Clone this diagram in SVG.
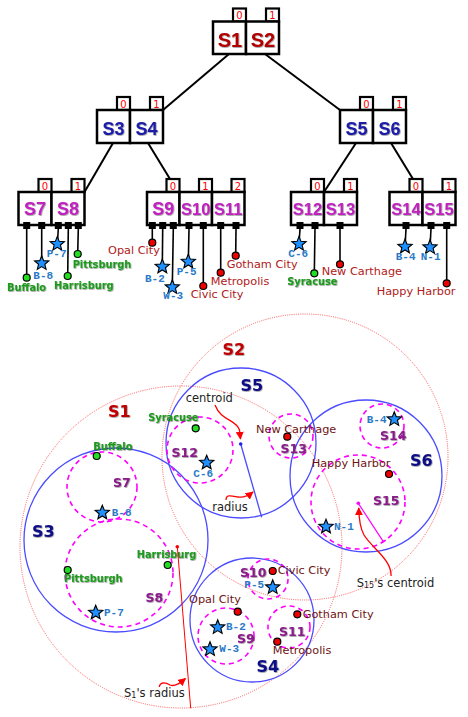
<svg xmlns="http://www.w3.org/2000/svg" width="468" height="717" viewBox="0 0 468 717">
<defs>
<filter id="sh" x="-20%" y="-30%" width="150%" height="170%"><feDropShadow dx="0.7" dy="0.7" stdDeviation="0.5" flood-color="#000" flood-opacity="0.45"/></filter>
<path id="star" d="M0,-7.5 L1.94,-2.67 L7.13,-2.32 L3.14,1.02 L4.41,6.07 L0,3.3 L-4.41,6.07 L-3.14,1.02 L-7.13,-2.32 L-1.94,-2.67 Z"/>
<marker id="arr" viewBox="0 0 10 10" refX="9" refY="5" markerWidth="8" markerHeight="8" markerUnits="userSpaceOnUse" orient="auto"><path d="M0,0 L10,5 L0,10 z" fill="#f00"/></marker>
<style>
.box{fill:#fff;stroke:#000;stroke-width:2.5}
.tab{fill:#fff;stroke:#000;stroke-width:2.2}
.tabt{font-family:"DejaVu Sans",sans-serif;font-size:10px;fill:#f00;text-anchor:middle}
.n1{font-family:"Liberation Sans",sans-serif;font-weight:bold;font-size:20px;fill:#b00000;text-anchor:middle;filter:url(#sh)}
.n2{font-family:"Liberation Sans",sans-serif;font-weight:bold;font-size:18px;fill:#1a1aa8;text-anchor:middle;filter:url(#sh)}
.n3{font-family:"Liberation Sans",sans-serif;font-weight:bold;font-size:18px;fill:#c020c0;text-anchor:middle;filter:url(#sh)}
.n3s{font-size:16.5px}
.edge{stroke:#000;stroke-width:2;fill:none}
.pl{stroke:#000;stroke-width:1.6}
.pin{fill:#000}
.rd{fill:#e00;stroke:#000;stroke-width:1.2}
.gd{fill:#2d2;stroke:#000;stroke-width:1.2}
.st{fill:#1e90ff;stroke:#000;stroke-width:1.1}
.gl{font-family:"DejaVu Sans",sans-serif;font-weight:bold;font-size:9.8px;fill:#1d9a1d;filter:url(#sh)}
.rl{font-family:"DejaVu Sans",sans-serif;font-size:11.3px;fill:#b02020}
.rl2{font-family:"DejaVu Sans",sans-serif;font-size:11.3px;fill:#6e1414}
.sl{font-family:"Liberation Mono",monospace;font-weight:bold;font-size:11px;fill:#2a7ac8}
.cr{fill:none;stroke:#ff5a5a;stroke-width:1;stroke-dasharray:1 1.2}
.cb{fill:none;stroke:#4b4bff;stroke-width:1.3}
.cm{fill:none;stroke:#f0f;stroke-width:1.6;stroke-dasharray:5 4}
.L1{font-family:"DejaVu Sans",sans-serif;font-weight:bold;font-size:16px;fill:#c00000;filter:url(#sh)}
.L2{font-family:"DejaVu Sans",sans-serif;font-weight:bold;font-size:16px;fill:#0b0b85;filter:url(#sh)}
.L3{font-family:"DejaVu Sans",sans-serif;font-weight:bold;font-size:12.5px;fill:#8a1a8a;filter:url(#sh)}
.ann{font-family:"DejaVu Sans",sans-serif;font-size:11.5px;fill:#222}
.aw{fill:none;stroke:#f00;stroke-width:1.3}
</style>
</defs>
<rect width="468" height="717" fill="#fff"/>

<!-- connectors -->
<g id="connectors">
<line class="edge" x1="229" y1="54" x2="163" y2="110"/>
<line class="edge" x1="265" y1="54" x2="340" y2="110"/>
<line class="edge" x1="113" y1="143" x2="84.5" y2="192"/>
<line class="edge" x1="148" y1="143" x2="170" y2="179"/>
<line class="edge" x1="356" y1="143" x2="324" y2="192"/>
<line class="edge" x1="391" y1="143" x2="413" y2="179"/>
<!-- pins -->
<line class="pl" x1="26.7" y1="229" x2="26.7" y2="277.7"/>
<line class="pl" x1="41.7" y1="229" x2="41.7" y2="263"/>
<line class="pl" x1="58.3" y1="229" x2="57.3" y2="244"/>
<line class="pl" x1="68.3" y1="229" x2="67.7" y2="276"/>
<line class="pl" x1="78.3" y1="229" x2="77.7" y2="254"/>
<line class="pl" x1="152.3" y1="229" x2="152.3" y2="242.7"/>
<line class="pl" x1="162.7" y1="229" x2="162.3" y2="266.7"/>
<line class="pl" x1="173.3" y1="229" x2="172.3" y2="287.3"/>
<line class="pl" x1="189" y1="229" x2="188.3" y2="261.7"/>
<line class="pl" x1="203.3" y1="229" x2="203.3" y2="286"/>
<line class="pl" x1="220.7" y1="229" x2="220.7" y2="272.7"/>
<line class="pl" x1="236" y1="229" x2="235.7" y2="255.7"/>
<line class="pl" x1="300" y1="229" x2="299" y2="244"/>
<line class="pl" x1="315" y1="229" x2="314.3" y2="273.3"/>
<line class="pl" x1="340" y1="229" x2="340" y2="264.3"/>
<line class="pl" x1="406" y1="229" x2="405" y2="246.7"/>
<line class="pl" x1="431" y1="229" x2="430" y2="247.3"/>
<line class="pl" x1="446.7" y1="229" x2="446.7" y2="283.3"/>
</g>

<!-- tree nodes -->
<g id="node-S1S2">
<rect class="tab" x="233" y="8.5" width="13" height="13"/><rect class="tab" x="266" y="8.5" width="13" height="13"/>
<rect class="box" x="213" y="21.5" width="33" height="32.5"/><rect class="box" x="246" y="21.5" width="33" height="32.5"/>
<text class="tabt" x="239.5" y="19">0</text><text class="tabt" x="272.5" y="19">1</text>
<text class="n1" x="230" y="46.5">S1</text><text class="n1" x="263" y="46.5">S2</text>
</g>
<g id="node-S3S4">
<rect class="tab" x="117" y="97" width="13" height="13"/><rect class="tab" x="150" y="97" width="13" height="13"/>
<rect class="box" x="97" y="110" width="33" height="33"/><rect class="box" x="130" y="110" width="33" height="33"/>
<text class="tabt" x="123.5" y="107.5">0</text><text class="tabt" x="156.5" y="107.5">1</text>
<text class="n2" x="113.5" y="134.5">S3</text><text class="n2" x="146.5" y="134.5">S4</text>
</g>
<g id="node-S5S6">
<rect class="tab" x="360" y="97" width="13" height="13"/><rect class="tab" x="393" y="97" width="13" height="13"/>
<rect class="box" x="340" y="110" width="33" height="33"/><rect class="box" x="373" y="110" width="33" height="33"/>
<text class="tabt" x="366.5" y="107.5">0</text><text class="tabt" x="399.5" y="107.5">1</text>
<text class="n2" x="356.5" y="134.5">S5</text><text class="n2" x="389.5" y="134.5">S6</text>
</g>
<g id="node-S7S8">
<rect class="tab" x="38.5" y="179" width="13" height="13"/><rect class="tab" x="71.5" y="179" width="13" height="13"/>
<rect class="box" x="18.5" y="192" width="33" height="33"/><rect class="box" x="51.5" y="192" width="33" height="33"/>
<text class="tabt" x="45" y="189.5">0</text><text class="tabt" x="78" y="189.5">1</text>
<text class="n3" x="35" y="214.5">S7</text><text class="n3" x="68" y="214.5">S8</text>
<rect class="pin" x="23.2" y="222" width="7" height="7"/><rect class="pin" x="38.2" y="222" width="7" height="7"/><rect class="pin" x="54.8" y="222" width="7" height="7"/><rect class="pin" x="64.8" y="222" width="7" height="7"/><rect class="pin" x="74.8" y="222" width="7" height="7"/>
</g>
<g id="node-S9S10S11">
<rect class="tab" x="166.5" y="179" width="13" height="13"/><rect class="tab" x="199" y="179" width="13" height="13"/><rect class="tab" x="231.5" y="179" width="13" height="13"/>
<rect class="box" x="147" y="192" width="32.5" height="33"/><rect class="box" x="179.5" y="192" width="32.5" height="33"/><rect class="box" x="212" y="192" width="32.5" height="33"/>
<text class="tabt" x="173" y="189.5">0</text><text class="tabt" x="205.5" y="189.5">1</text><text class="tabt" x="238" y="189.5">2</text>
<text class="n3" x="163.3" y="214.5">S9</text><text class="n3 n3s" x="195.8" y="214.5">S10</text><text class="n3 n3s" x="228.3" y="214.5">S11</text>
<rect class="pin" x="148.8" y="222" width="7" height="7"/><rect class="pin" x="159.2" y="222" width="7" height="7"/><rect class="pin" x="169.8" y="222" width="7" height="7"/><rect class="pin" x="185.5" y="222" width="7" height="7"/><rect class="pin" x="199.8" y="222" width="7" height="7"/><rect class="pin" x="217.2" y="222" width="7" height="7"/><rect class="pin" x="232.5" y="222" width="7" height="7"/>
</g>
<g id="node-S12S13">
<rect class="tab" x="311" y="179" width="13" height="13"/><rect class="tab" x="344" y="179" width="13" height="13"/>
<rect class="box" x="291" y="192" width="33" height="33"/><rect class="box" x="324" y="192" width="33" height="33"/>
<text class="tabt" x="317.5" y="189.5">0</text><text class="tabt" x="350.5" y="189.5">1</text>
<text class="n3 n3s" x="307.5" y="214.5">S12</text><text class="n3 n3s" x="340.5" y="214.5">S13</text>
<rect class="pin" x="296.5" y="222" width="7" height="7"/><rect class="pin" x="311.5" y="222" width="7" height="7"/><rect class="pin" x="336.5" y="222" width="7" height="7"/>
</g>
<g id="node-S14S15">
<rect class="tab" x="409.5" y="179" width="13" height="13"/><rect class="tab" x="442.5" y="179" width="13" height="13"/>
<rect class="box" x="389.5" y="192" width="33" height="33"/><rect class="box" x="422.5" y="192" width="33" height="33"/>
<text class="tabt" x="416" y="189.5">0</text><text class="tabt" x="449" y="189.5">1</text>
<text class="n3 n3s" x="406" y="214.5">S14</text><text class="n3 n3s" x="439" y="214.5">S15</text>
<rect class="pin" x="402.5" y="222" width="7" height="7"/><rect class="pin" x="427.5" y="222" width="7" height="7"/><rect class="pin" x="443.2" y="222" width="7" height="7"/>
</g>

<!-- tree leaves (points) -->
<g id="tree-points">
<circle class="gd" cx="26.7" cy="277.7" r="3.5"/><text class="gl" x="7" y="291">Buffalo</text>
<use href="#star" class="st" x="41.7" y="263.3"/><text class="sl" x="33.3" y="279">B-8</text>
<use href="#star" class="st" x="57.3" y="244"/><text class="sl" x="46.7" y="257">P-7</text>
<circle class="gd" cx="67.7" cy="276" r="3.5"/><text class="gl" x="54" y="289">Harrisburg</text>
<circle class="gd" cx="77.7" cy="254" r="3.5"/><text class="gl" x="72.7" y="268">Pittsburgh</text>
<circle class="rd" cx="152.3" cy="242.7" r="3.5"/><text class="rl" x="108" y="254">Opal City</text>
<use href="#star" class="st" x="162.3" y="266.7"/><text class="sl" x="145" y="282">B-2</text>
<use href="#star" class="st" x="172.3" y="287.3"/><text class="sl" x="163.3" y="298.5">W-3</text>
<use href="#star" class="st" x="188.3" y="261.7"/><text class="sl" x="176.7" y="275">P-5</text>
<circle class="rd" cx="203.3" cy="286" r="3.5"/><text class="rl" x="190.7" y="298">Civic City</text>
<circle class="rd" cx="220.7" cy="272.7" r="3.5"/><text class="rl" x="210.7" y="285">Metropolis</text>
<circle class="rd" cx="235.7" cy="255.7" r="3.5"/><text class="rl" x="226.7" y="268">Gotham City</text>
<use href="#star" class="st" x="299" y="244"/><text class="sl" x="288.3" y="256.5">C-6</text>
<circle class="gd" cx="314.3" cy="273.3" r="3.5"/><text class="gl" x="287.3" y="285">Syracuse</text>
<circle class="rd" cx="340" cy="264.3" r="3.5"/><text class="rl" x="321.7" y="275">New Carthage</text>
<use href="#star" class="st" x="405" y="246.7"/><text class="sl" x="395.7" y="260">B-4</text>
<use href="#star" class="st" x="430" y="247.3"/><text class="sl" x="420.7" y="260">N-1</text>
<circle class="rd" cx="446.7" cy="283.3" r="3.5"/><text class="rl" x="376.7" y="295">Happy Harbor</text>
</g>

<!-- spatial map -->
<g id="region-S1"><circle class="cr" cx="181" cy="547" r="161"/><text class="L1" x="108" y="417">S1</text></g>
<g id="region-S2"><circle class="cr" cx="305" cy="457" r="143"/><text class="L1" x="222.5" y="355">S2</text></g>
<g id="region-S3"><circle class="cb" cx="116" cy="540" r="92"/><text class="L2" x="32" y="537">S3</text></g>
<g id="region-S4"><circle class="cb" cx="252" cy="620" r="62"/><text class="L2" x="256.5" y="671.5">S4</text></g>
<g id="region-S5"><circle class="cb" cx="241" cy="443" r="75"/><text class="L2" x="240.5" y="390.5">S5</text></g>
<g id="region-S6"><circle class="cb" cx="366" cy="476" r="76"/><text class="L2" x="410" y="465.5">S6</text></g>
<g id="region-S7"><circle class="cm" cx="102" cy="487" r="35"/><text class="L3" x="113" y="487">S7</text></g>
<g id="region-S8"><circle class="cm" cx="119" cy="573" r="54"/><text class="L3" x="145.5" y="601.5">S8</text></g>
<g id="region-S9"><circle class="cm" cx="226" cy="636" r="28"/><text class="L3" x="237" y="642.5">S9</text></g>
<g id="region-S10"><circle class="cm" cx="268" cy="579" r="20"/><text class="L3" x="240" y="576.5">S10</text></g>
<g id="region-S11"><circle class="cm" cx="289" cy="627" r="21"/><text class="L3" x="279" y="635.5">S11</text></g>
<g id="region-S12"><circle class="cm" cx="200" cy="450" r="33"/><text class="L3" x="171.5" y="456.5">S12</text></g>
<g id="region-S13"><circle class="cm" cx="291" cy="436" r="22"/><text class="L3" x="280.5" y="453">S13</text></g>
<g id="region-S14"><circle class="cm" cx="382" cy="426" r="22"/><text class="L3" x="380" y="440">S14</text></g>
<g id="region-S15"><circle class="cm" cx="358" cy="502" r="47"/><text class="L3" x="373" y="505">S15</text></g>

<g id="map-points">
<circle class="gd" cx="96.7" cy="456" r="3.5"/><text class="gl" x="93.3" y="450">Buffalo</text>
<use href="#star" class="st" x="102.3" y="512.7"/><text class="sl" x="111.7" y="516">B-8</text>
<circle class="gd" cx="167.7" cy="565" r="3.5"/><text class="gl" x="136.7" y="558.3">Harrisburg</text>
<circle class="gd" cx="67.7" cy="570" r="3.5"/><text class="gl" x="64" y="581.7">Pittsburgh</text>
<use href="#star" class="st" x="95.7" y="612.7"/><text class="sl" x="104" y="615.5">P-7</text>
<circle class="gd" cx="195.7" cy="428.3" r="3.5"/><text class="gl" x="148.3" y="420.7">Syracuse</text>
<use href="#star" class="st" x="206.7" y="462.7"/><text class="sl" x="193.3" y="477.3">C-6</text>
<circle class="rd" cx="287.3" cy="436.7" r="3.5"/><text class="rl2" x="256" y="432.7">New Carthage</text>
<use href="#star" class="st" x="394.3" y="419.3"/><text class="sl" x="366.7" y="422.7">B-4</text>
<circle class="rd" cx="389" cy="474" r="3.5"/><text class="rl2" x="311.7" y="467.3">Happy Harbor</text>
<use href="#star" class="st" x="326" y="526.7"/><text class="sl" x="334" y="530">N-1</text>
<circle class="rd" cx="272.7" cy="571" r="3.5"/><text class="rl2" x="277.7" y="574">Civic City</text>
<use href="#star" class="st" x="272.7" y="587.3"/><text class="sl" x="244.3" y="588.3">P-5</text>
<circle class="rd" cx="237.7" cy="611.7" r="3.5"/><text class="rl2" x="189" y="603.3">Opal City</text>
<use href="#star" class="st" x="217.7" y="627.3"/><text class="sl" x="226" y="629.5">B-2</text>
<use href="#star" class="st" x="210" y="649.3"/><text class="sl" x="219.3" y="651.7">W-3</text>
<circle class="rd" cx="297.3" cy="614.3" r="3.5"/><text class="rl2" x="302.7" y="618.3">Gotham City</text>
<circle class="rd" cx="277.3" cy="641.7" r="3.5"/><text class="rl2" x="272.7" y="654">Metropolis</text>
</g>

<g id="annotations">
<line x1="177.3" y1="546.7" x2="190.7" y2="708.3" stroke="#f00" stroke-width="1"/>
<circle cx="177.3" cy="546.7" r="1.8" fill="#f00"/>
<line x1="240.7" y1="444" x2="261.7" y2="517.3" stroke="#4b4bff" stroke-width="1.3"/>
<circle cx="240.7" cy="444" r="1.8" fill="#2222ee"/>
<line x1="358.3" y1="503.3" x2="383.3" y2="541.7" stroke="#f0f" stroke-width="1.2"/>
<line x1="380.8" y1="543.3" x2="385.8" y2="540.1" stroke="#f0f" stroke-width="1.2"/>
<circle cx="358.3" cy="503.3" r="1.8" fill="#f0f"/>
<path class="aw" d="M215,405 C221,421 236,419 239.5,430 L240.5,439" marker-end="url(#arr)"/>
<text class="ann" x="185.7" y="401.5">centroid</text>
<path class="aw" d="M226,500 C226,494 232,496 238,497 C244,498 248,496 253,492" marker-end="url(#arr)"/>
<text class="ann" x="212.3" y="510.7">radius</text>
<path class="aw" d="M159.3,687 C160,682 165,682 170,685 C175,687 180,683 185.5,678.5" marker-end="url(#arr)"/>
<text class="ann" x="124" y="697.3">S<tspan font-size="8" dy="1">1</tspan><tspan dy="-1">'s radius</tspan></text>
<path class="aw" d="M391,576 C392,560 372,548 364,535 C360,528 359,520 358.8,508" marker-end="url(#arr)"/>
<text class="ann" x="356.7" y="587.3">S<tspan font-size="8" dy="1">15</tspan><tspan dy="-1">'s centroid</tspan></text>
</g>
</svg>
